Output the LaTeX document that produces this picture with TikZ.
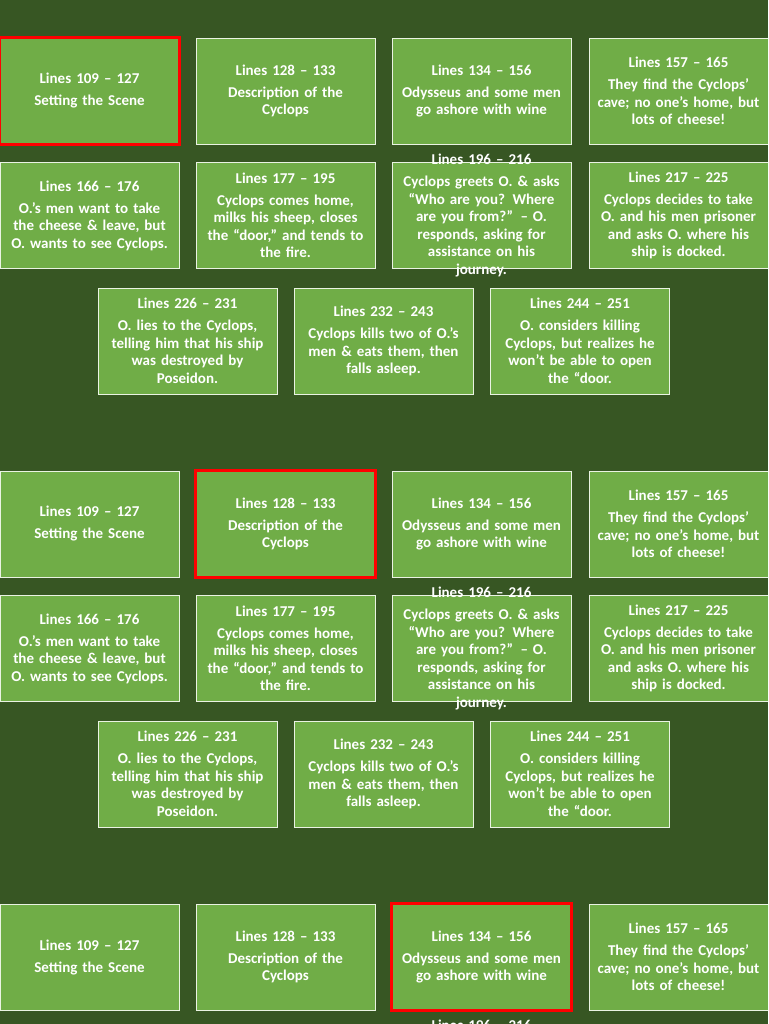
\documentclass[tikz,border=0pt]{standalone}
\usepackage{fontspec}
\setmainfont{Carlito}
\usepackage{tikz}
\usetikzlibrary{positioning}
\definecolor{darkbg}{HTML}{375623}
\definecolor{boxgreen}{HTML}{70AD47}
\tikzset{every picture/.style={line width=1pt}}

\begin{document}
\begin{tikzpicture}[x=1pt,y=-1pt,
  box/.style={rectangle,minimum width=179pt,minimum height=106pt,inner sep=0pt,fill=boxgreen,draw=white!85!boxgreen,line width=0.9pt},
  txt/.style={text=white,text width=178pt,align=center,inner sep=0pt,font=\fontsize{15}{17.5}\selectfont\bfseries},
  hl/.style={draw=red,line width=3.5pt}]
\fill[darkbg] (0,0) rectangle (768,1024);
\useasboundingbox (0,0) rectangle (768,1024);
\clip (0,0) rectangle (768,1024);
\foreach \p in {0,1,2} {
\foreach \i/\x/\y/\h/\t in {
 1/89.5/91/{Lines 109 – 127}/{Setting the Scene},
 2/285.5/91/{Lines 128 – 133}/{Description of the\\Cyclops},
 3/481.5/91/{Lines 134 – 156}/{Odysseus and some men\\go ashore with wine},
 4/678.5/91/{Lines 157 – 165}/{They find the Cyclops’\\cave; no one’s home, but\\lots of cheese!},
 5/89.5/215.5/{Lines 166 – 176}/{O.’s men want to take\\the cheese \& leave, but\\O. wants to see Cyclops.},
 6/285.5/215.5/{Lines 177 – 195}/{Cyclops comes home,\\milks his sheep, closes\\the “door,” and tends to\\the fire.},
 7/481.5/215.5/{Lines 196 – 216}/{Cyclops greets O. \& asks\\“Who are you? Where\\are you from?” – O.\\responds, asking for\\assistance on his\\journey.},
 8/678.5/215.5/{Lines 217 – 225}/{Cyclops decides to take\\O. and his men prisoner\\and asks O. where his\\ship is docked.},
 9/187.5/341/{Lines 226 – 231}/{O. lies to the Cyclops,\\telling him that his ship\\was destroyed by\\Poseidon.},
 10/383.5/341/{Lines 232 – 243}/{Cyclops kills two of O.’s\\men \& eats them, then\\falls asleep.},
 11/580/341/{Lines 244 – 251}/{O. considers killing\\Cyclops, but realizes he\\won’t be able to open\\the “door.}} {
  \pgfmathsetmacro\yy{\y+433*\p}
  % only what falls inside the page
  \pgfmathparse{(\yy<1024) || (\i==7 && \yy<1100) ? 1 : 0}
  \ifnum\pgfmathresult=1
  \node[box] (b\p\i) at (\x,\yy) {};
  \node[txt] (t\p\i) at (b\p\i) {\h\\[4.5pt]\t};
  \ifnum\i=\numexpr\p+1\relax
  \draw[hl] (b\p\i.south west) rectangle (b\p\i.north east);
  \fi
  \fi
}
}
\end{tikzpicture}
\end{document}
